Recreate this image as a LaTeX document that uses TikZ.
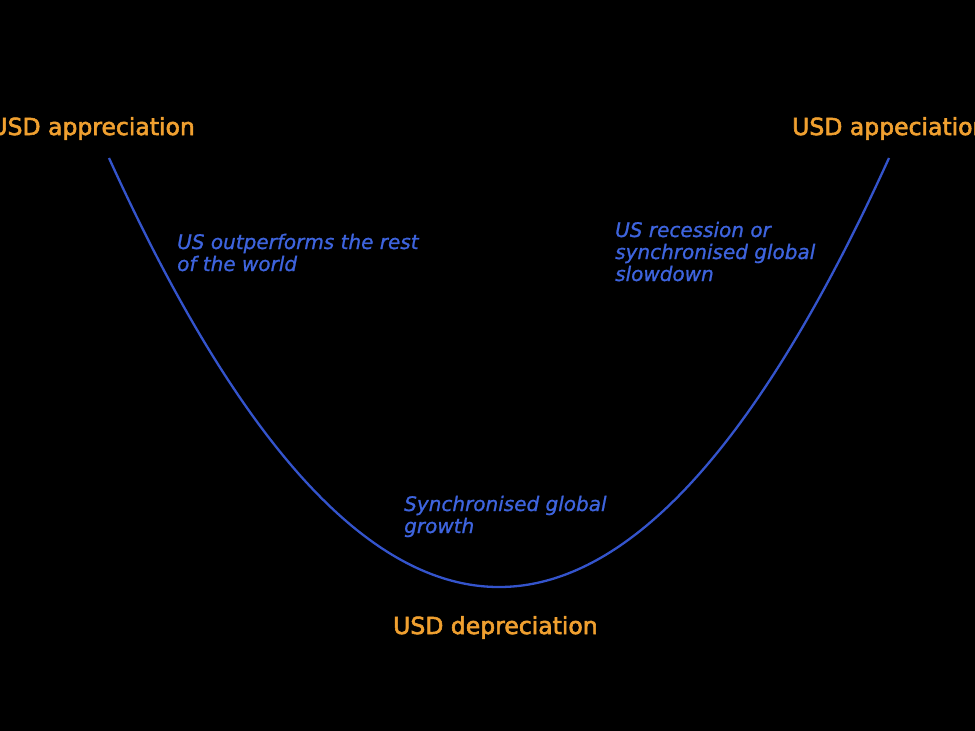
\documentclass[tikz,border=0pt]{standalone}
\usepackage{fontspec}
\setmainfont{DejaVu Sans}[ItalicFont={DejaVu Sans Oblique},BoldFont={DejaVu Sans Bold}]
\definecolor{curveblue}{RGB}{52,84,204}
\definecolor{textblue}{RGB}{62,100,222}
\definecolor{usdorange}{RGB}{240,160,48}
\begin{document}
\begin{tikzpicture}[x=1pt,y=-1pt,
  orangelabel/.style={text=usdorange,font=\fontsize{23.5}{27}\selectfont\addfontfeature{FakeBold=2.5},inner sep=0pt},
  bluelabel/.style={text=textblue,font=\fontsize{20}{22}\selectfont\itshape\addfontfeature{FakeBold=1},inner sep=0pt,align=left},
  ucurve/.style={draw=curveblue,line width=2.3pt}]
\useasboundingbox (0,0) rectangle (975,731);
\clip (0,0) rectangle (975,731);
\fill[black] (0,0) rectangle (975,731);
\coordinate (topL) at (109,158);
\coordinate (topR) at (889,158);
\draw[ucurve] (topL) .. controls (369,730) and (629,730) .. (topR);
\node[orangelabel,anchor=base east] (appL) at (195,135) {USD appreciation};
\node[orangelabel,anchor=base west] (appR) at (792,135) {USD appeciation};
\node[orangelabel,anchor=base west] (dep) at (393,634) {USD depreciation};
\node[bluelabel,anchor=base west] (outperf) at (177,271) {US outperforms the rest\\of the world};
\node[bluelabel,anchor=base west] (recess) at (615,281) {US recession or\\synchronised global\\slowdown};
\node[bluelabel,anchor=base west] (growth) at (404,533) {Synchronised global\\growth};
\end{tikzpicture}
\end{document}
